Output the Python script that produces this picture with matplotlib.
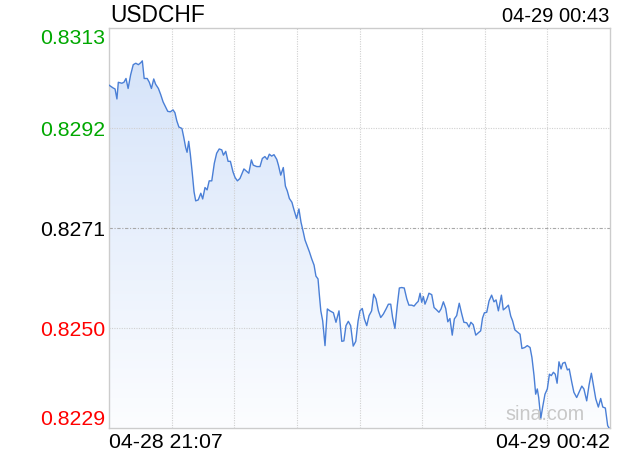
#!/usr/bin/env python3

'''
    Intraday USDCHF quote chart, saved as out.png.
'''

import numpy as np
import matplotlib
matplotlib.use("Agg")
import matplotlib.pyplot as plt
from matplotlib.colors import LinearSegmentedColormap


SYMBOL = "USDCHF"
NOW_LABEL = "04-29 00:43"
START_LABEL = "04-28 21:07"
END_LABEL = "04-29 00:42"
SESSION_MINUTES = 215
PREV_CLOSE = 0.8271

# minutes after 21:07
minutes = [
    0.0, 1.8, 2.6, 3.4, 4.0, 5.5, 6.4, 7.3, 8.2, 9.3,
    10.4, 11.5, 12.6, 13.6, 14.3, 15.1, 16.4, 17.3, 18.2, 19.2,
    20.0, 21.2, 22.2, 23.2, 24.0, 25.2, 26.3, 27.5, 28.3, 29.1,
    30.0, 31.3, 32.1, 32.9, 33.5, 34.2, 34.9, 35.7, 36.5, 37.2,
    38.3, 39.4, 40.2, 41.2, 42.1, 43.0, 44.1, 45.2, 46.2, 47.3,
    48.4, 49.1, 50.1, 51.1, 52.1, 53.2, 54.1, 55.1, 56.2, 57.9,
    60.0, 61.1, 61.9, 63.4, 64.8, 65.8, 66.9, 67.9, 68.8, 69.8,
    70.8, 72.0, 72.7, 73.7, 74.8, 75.7, 76.5, 77.4, 78.5, 79.4,
    80.5, 81.5, 82.4, 83.4, 84.1, 85.0, 86.0, 87.0, 88.0, 88.8,
    89.7, 90.3, 90.9, 91.7, 92.7, 93.7, 94.8, 96.3, 97.4, 98.7,
    99.9, 100.8, 101.7, 102.7, 103.7, 104.8, 105.9, 106.9, 107.7,
    108.7, 109.6, 110.6, 111.6, 112.7, 113.6, 114.6, 115.6, 116.6, 117.7,
    118.9, 119.9, 120.9, 121.7, 122.7, 123.7, 124.6, 125.6, 126.7, 127.8,
    128.7, 129.9, 130.9, 131.9, 132.7, 133.5, 134.2, 134.9, 135.6, 136.5,
    137.3, 138.5, 139.5, 140.6, 141.6, 142.5, 143.5, 144.5, 145.4, 146.3,
    147.3, 148.2, 149.2, 150.3, 151.4, 152.3, 153.5, 154.5, 155.3, 156.3,
    157.4, 158.5, 159.5,
    160.3, 161.1, 162.1, 163.1, 164.2, 165.2, 166.1, 167.1, 168.4, 169.2,
    170.4, 171.4, 172.4, 173.2, 174.2, 175.4, 176.4, 177.2, 178.4, 179.5,
    180.7, 181.5, 182.4, 183.1, 183.8, 184.4, 185.3, 186.1, 187.1, 188.1,
    189.0, 189.8, 190.7, 191.5, 192.3, 193.1, 194.0, 194.7, 195.7, 196.7,
    197.5, 198.6, 199.5, 200.7, 201.7, 202.9, 203.8, 205.0, 206.0, 207.0,
    207.8, 208.9, 210.0, 211.0, 211.9, 213.0, 214.0, 214.6,
]

prices = [
    0.83010, 0.83004, 0.83002, 0.82981, 0.83016, 0.83014, 0.83016, 0.83024, 0.83003, 0.83032,
    0.83053, 0.83056, 0.83053, 0.83057, 0.83061, 0.83024, 0.83024, 0.83016, 0.83003, 0.83023,
    0.83012, 0.83003, 0.82990, 0.82975, 0.82967, 0.82955, 0.82954, 0.82958, 0.82952, 0.82935,
    0.82922, 0.82919, 0.82900, 0.82879, 0.82869, 0.82892, 0.82865, 0.82827, 0.82786, 0.82767,
    0.82769, 0.82783, 0.82771, 0.82795, 0.82790, 0.82809, 0.82809, 0.82846, 0.82867, 0.82876,
    0.82874, 0.82863, 0.82871, 0.82850, 0.82850, 0.82828, 0.82816, 0.82809, 0.82814, 0.82834,
    0.82825, 0.82853, 0.82842, 0.82839, 0.82839, 0.82856, 0.82860, 0.82854, 0.82865, 0.82861,
    0.82864, 0.82854, 0.82842, 0.82821, 0.82837, 0.82798, 0.82788, 0.82772, 0.82764, 0.82748,
    0.82730, 0.82750, 0.82722, 0.82701, 0.82685, 0.82673, 0.82660, 0.82645, 0.82632, 0.82609,
    0.82603, 0.82568, 0.82536, 0.82515, 0.82463, 0.82540, 0.82536, 0.82532, 0.82512, 0.82536,
    0.82472, 0.82473, 0.82505, 0.82514, 0.82505, 0.82462, 0.82472, 0.82515, 0.82536,
    0.82541, 0.82519, 0.82505, 0.82526, 0.82536, 0.82571, 0.82561, 0.82536, 0.82522, 0.82529,
    0.82540, 0.82550, 0.82550, 0.82522, 0.82499, 0.82547, 0.82584, 0.82585, 0.82584, 0.82561,
    0.82548, 0.82548, 0.82546, 0.82552, 0.82556, 0.82573, 0.82554, 0.82566, 0.82550, 0.82561,
    0.82573, 0.82570, 0.82543, 0.82538, 0.82533, 0.82540, 0.82555, 0.82541, 0.82513, 0.82520,
    0.82485, 0.82519, 0.82526, 0.82552, 0.82529, 0.82512, 0.82511, 0.82502, 0.82512, 0.82507,
    0.82485, 0.82490, 0.82494,
    0.82521, 0.82532, 0.82533, 0.82557, 0.82569, 0.82555, 0.82559, 0.82536, 0.82569, 0.82538,
    0.82543, 0.82548, 0.82525, 0.82515, 0.82496, 0.82491, 0.82487, 0.82457, 0.82459, 0.82463,
    0.82459, 0.82438, 0.82400, 0.82361, 0.82372, 0.82354, 0.82310, 0.82334, 0.82361, 0.82372,
    0.82403, 0.82400, 0.82407, 0.82403, 0.82384, 0.82429, 0.82414, 0.82426, 0.82428, 0.82412,
    0.82414, 0.82386, 0.82365, 0.82354, 0.82365, 0.82378, 0.82372, 0.82347, 0.82380, 0.82405,
    0.82382, 0.82351, 0.82334, 0.82352, 0.82334, 0.82332, 0.82295, 0.82290,
]

yTicks = [0.8229, 0.8250, 0.8271, 0.8292, 0.8313]
yTickLabels = ["0.8229", "0.8250", "0.8271", "0.8292", "0.8313"]
yTickColors = ["#ff0000", "#ff0000", "#000000", "#00a800", "#00a800"]

FONT = "Liberation Sans"
LINE_COLOR = "#4a7fd6"
GRID_COLOR = "#d0d0d0"


def drawChart():
    plt.rcParams["font.family"] = [FONT, "DejaVu Sans"]
    fig = plt.figure(figsize=(6.2, 4.6), dpi=100)
    ax = fig.add_axes([109 / 620, 1 - 429 / 460, 501 / 620, 400 / 460])

    yMin, yMax = yTicks[0], yTicks[-1]
    ax.set_xlim(0, SESSION_MINUTES)
    ax.set_ylim(yMin, yMax)

    # gradient area under the line
    fill = ax.fill_between(minutes, prices, yMin, facecolor="none", edgecolor="none")
    cmap = LinearSegmentedColormap.from_list("area", ["#fcfdff", "#d3e2f9"])
    grad = np.linspace(0, 1, 256).reshape(-1, 1)
    img = ax.imshow(grad, cmap=cmap, origin="lower", aspect="auto",
                    extent=[0, SESSION_MINUTES, yMin, yMax], zorder=1)
    img.set_clip_path(fill.get_paths()[0], transform=ax.transData)

    # grid, drawn over the area
    dotted = (0, (1, 1.2))
    for x in np.linspace(0, SESSION_MINUTES, 9)[1:-1]:
        ax.axvline(x, color=GRID_COLOR, lw=0.8, ls=dotted, zorder=2)
    for y in yTicks[1:-1]:
        if y == PREV_CLOSE:
            ax.axhline(y, color="#a8a8a8", lw=0.8, ls=(0, (3, 1.5, 1, 1.5)), zorder=2)
        else:
            ax.axhline(y, color=GRID_COLOR, lw=0.8, ls=dotted, zorder=2)

    ax.plot(minutes, prices, color=LINE_COLOR, lw=1.0, zorder=3)

    for s in ax.spines.values():
        s.set_color("#cccccc")
        s.set_linewidth(1.0)

    ax.set_yticks(yTicks)
    ax.set_yticklabels(yTickLabels, fontsize=15.3)
    for lbl, col in zip(ax.get_yticklabels(), yTickColors):
        lbl.set_color(col)
    ax.get_yticklabels()[0].set_verticalalignment("bottom")
    ax.get_yticklabels()[-1].set_verticalalignment("top")

    ax.set_xticks([0, SESSION_MINUTES])
    ax.set_xticklabels([START_LABEL, END_LABEL], fontsize=15.3)
    ax.get_xticklabels()[0].set_horizontalalignment("left")
    ax.get_xticklabels()[-1].set_horizontalalignment("right")
    ax.tick_params(length=0)
    ax.tick_params(axis="y", pad=3)
    ax.tick_params(axis="x", pad=3)

    ax.text(0.95, 0.022, "sina.com", transform=ax.transAxes, ha="right",
            va="baseline", fontsize=14.2, color="#c8c8c8", zorder=4)

    fig.text(110 / 620, 1 - 16 / 460, SYMBOL, fontsize=16.4, va="center", ha="left")
    fig.text(609 / 620, 1 - 16 / 460, NOW_LABEL, fontsize=14.5, va="center", ha="right")

    fig.savefig("out.png", dpi=100)


if __name__ == "__main__":
    drawChart()
